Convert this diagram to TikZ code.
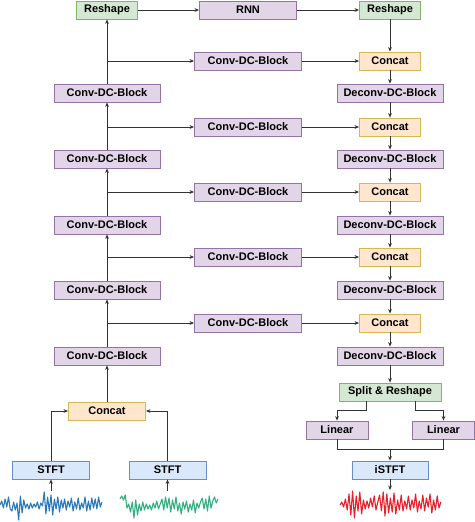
\documentclass[tikz,border=0pt]{standalone}
\usepackage{fontspec}
\setmainfont{Liberation Sans}
\usetikzlibrary{arrows.meta,positioning,calc}
\definecolor{pfill}{HTML}{E1D5E7}\definecolor{pdraw}{HTML}{9673A6}
\definecolor{gfill}{HTML}{D5E8D4}\definecolor{gdraw}{HTML}{82B366}
\definecolor{ofill}{HTML}{FFE6CC}\definecolor{odraw}{HTML}{D6B656}
\definecolor{bfill}{HTML}{DAE8FC}\definecolor{bdraw}{HTML}{6C8EBF}
\definecolor{wblue}{HTML}{2A7AB9}\definecolor{wgreen}{HTML}{34B07E}\definecolor{wred}{HTML}{E8202A}
\definecolor{lnc}{HTML}{333333}
\tikzset{
 box/.style={draw, line width=0.9pt, minimum height=18pt, inner sep=0pt, font=\fontsize{11}{12}\selectfont\bfseries, text=black},
 pbox/.style={box, fill=pfill, draw=pdraw},
 gbox/.style={box, fill=gfill, draw=gdraw},
 obox/.style={box, fill=ofill, draw=odraw},
 bbox/.style={box, fill=bfill, draw=bdraw},
 arr/.style={draw=lnc, line width=0.8pt, -{Stealth[length=4.5pt,width=3.8pt]}},
 ln/.style={draw=lnc, line width=0.8pt},
 wave/.style={line width=1.1pt, line join=round}
}
\begin{document}
\begin{tikzpicture}[x=1pt,y=-1pt]
\useasboundingbox (0,0) rectangle (474,522);
% top row
\node[gbox, minimum width=61pt] (rl) at (107,10) {Reshape};
\node[pbox, minimum width=97pt] (rnn) at (248,10) {RNN};
\node[gbox, minimum width=61pt] (rr) at (390,10) {Reshape};
% columns
\foreach \i/\y in {1/93,2/159,3/225,4/290,5/356}{
  \node[pbox, minimum width=106pt] (c\i) at (107,\y) {Conv-DC-Block};
  \node[pbox, minimum width=106pt] (d\i) at (390,\y) {Deconv-DC-Block};
}
\foreach \i/\y in {1/61,2/127,3/192,4/257,5/323}{
  \node[pbox, minimum width=107pt] (m\i) at (248,\y) {Conv-DC-Block};
  \node[obox, minimum width=61pt] (k\i) at (390,\y) {Concat};
  \draw[arr] (m\i) -- (k\i);
  \draw[arr] (k\i) -- (d\i);
}
\draw[arr] (rl) -- (rnn);
\draw[arr] (rnn) -- (rr);
\draw[arr] (rr) -- (k1);
\foreach \a/\b in {1/2,2/3,3/4,4/5}{\draw[arr] (d\a) -- (k\b);}
% left vertical chain
\draw[arr] (c1) -- (rl);
\foreach \a/\b in {2/1,3/2,4/3,5/4}{\draw[arr] (c\a) -- (c\b);}
\foreach \i in {1,...,5}{
  \coordinate (b\i) at (c1.north |- m\i.west);
  \draw[arr] (b\i) -- (m\i);
}
% bottom left
\node[obox, minimum width=77pt] (cat) at (107,411) {Concat};
\node[bbox, minimum width=77pt] (s1) at (51,470) {STFT};
\node[bbox, minimum width=77pt] (s2) at (167.5,470) {STFT};
\draw[arr] (cat) -- (c5);
\draw[arr] (s1.north) |- (cat.west);
\draw[arr] (s2.north) |- (cat.east);
\coordinate (w1) at (51,491);
\coordinate (w2) at (167.5,491);
\draw[arr] (w1) -- (s1);
\draw[arr] (w2) -- (s2);
% bottom right
\node[gbox, minimum width=102pt] (sp) at (390,392) {Split \& Reshape};
\node[pbox, minimum width=62pt] (l1) at (337,430) {Linear};
\node[pbox, minimum width=62pt] (l2) at (443.5,430) {Linear};
\node[bbox, minimum width=76pt] (is) at (390,470) {iSTFT};
\draw[arr] (d5) -- (sp);
\draw[arr] ([xshift=-24pt]sp.south) -- ++(0,9) -| (l1.north);
\draw[arr] ([xshift=25pt]sp.south) -- ++(0,9) -| (l2.north);
\coordinate (j) at (390,449);
\draw[ln] (l1.south) |- (j);
\draw[ln] (l2.south) |- (j);
\draw[arr] (j) -- (is);
\coordinate (w3) at (390,490);
\draw[arr] (is) -- (w3);
% waveforms
\draw[wave, wblue] (0,505) \foreach \v [count=\i] in {-4,3,-6,2,-8,4,6,-3,5,-2,15,-9,8,-5,3,-1,4,-2,3,-1,2,-3,4,-2,1,-13,9,-8,6,-10,10,-6,4,-8,7,-5,3,-6,5,-4,2,-7,6,-3,4,-7,5,-2,3,-8,6,-4,5,-7,3,-6,4,-8,2,-3}{ -- (\i*1.7,505+\v)};
\draw[wave, wgreen] (120,499) \foreach \v [count=\i] in {-10,-6,-11,2,-2,6,-4,12,-6,9,-2,5,-4,4,-2,3,-1,4,-3,2,-5,3,-2,-7,4,-9,2,-8,6,-6,3,-9,5,-3,8,-4,3,-5,6,-2,4,-6,7,-3,2,-4,-8,3,-7,5,-10,2,-5,-9,-3,-7}{ -- (120+\i*1.75,506+\v)};
\draw[wave, wred] (340,505) \foreach \v [count=\i] in {-2,3,-5,6,-10,11,-13,14,-8,7,-12,10,-4,5,-3,4,-6,3,-8,6,-2,-9,7,-12,12,-10,9,-6,8,-11,10,-4,6,-9,7,-3,5,-8,6,-4,4,-10,8,-3,5,-9,7,-6,3,-10,9,-4,6,-8,4,-2}{ -- (340+\i*1.8,504+\v)};
\end{tikzpicture}
\end{document}
